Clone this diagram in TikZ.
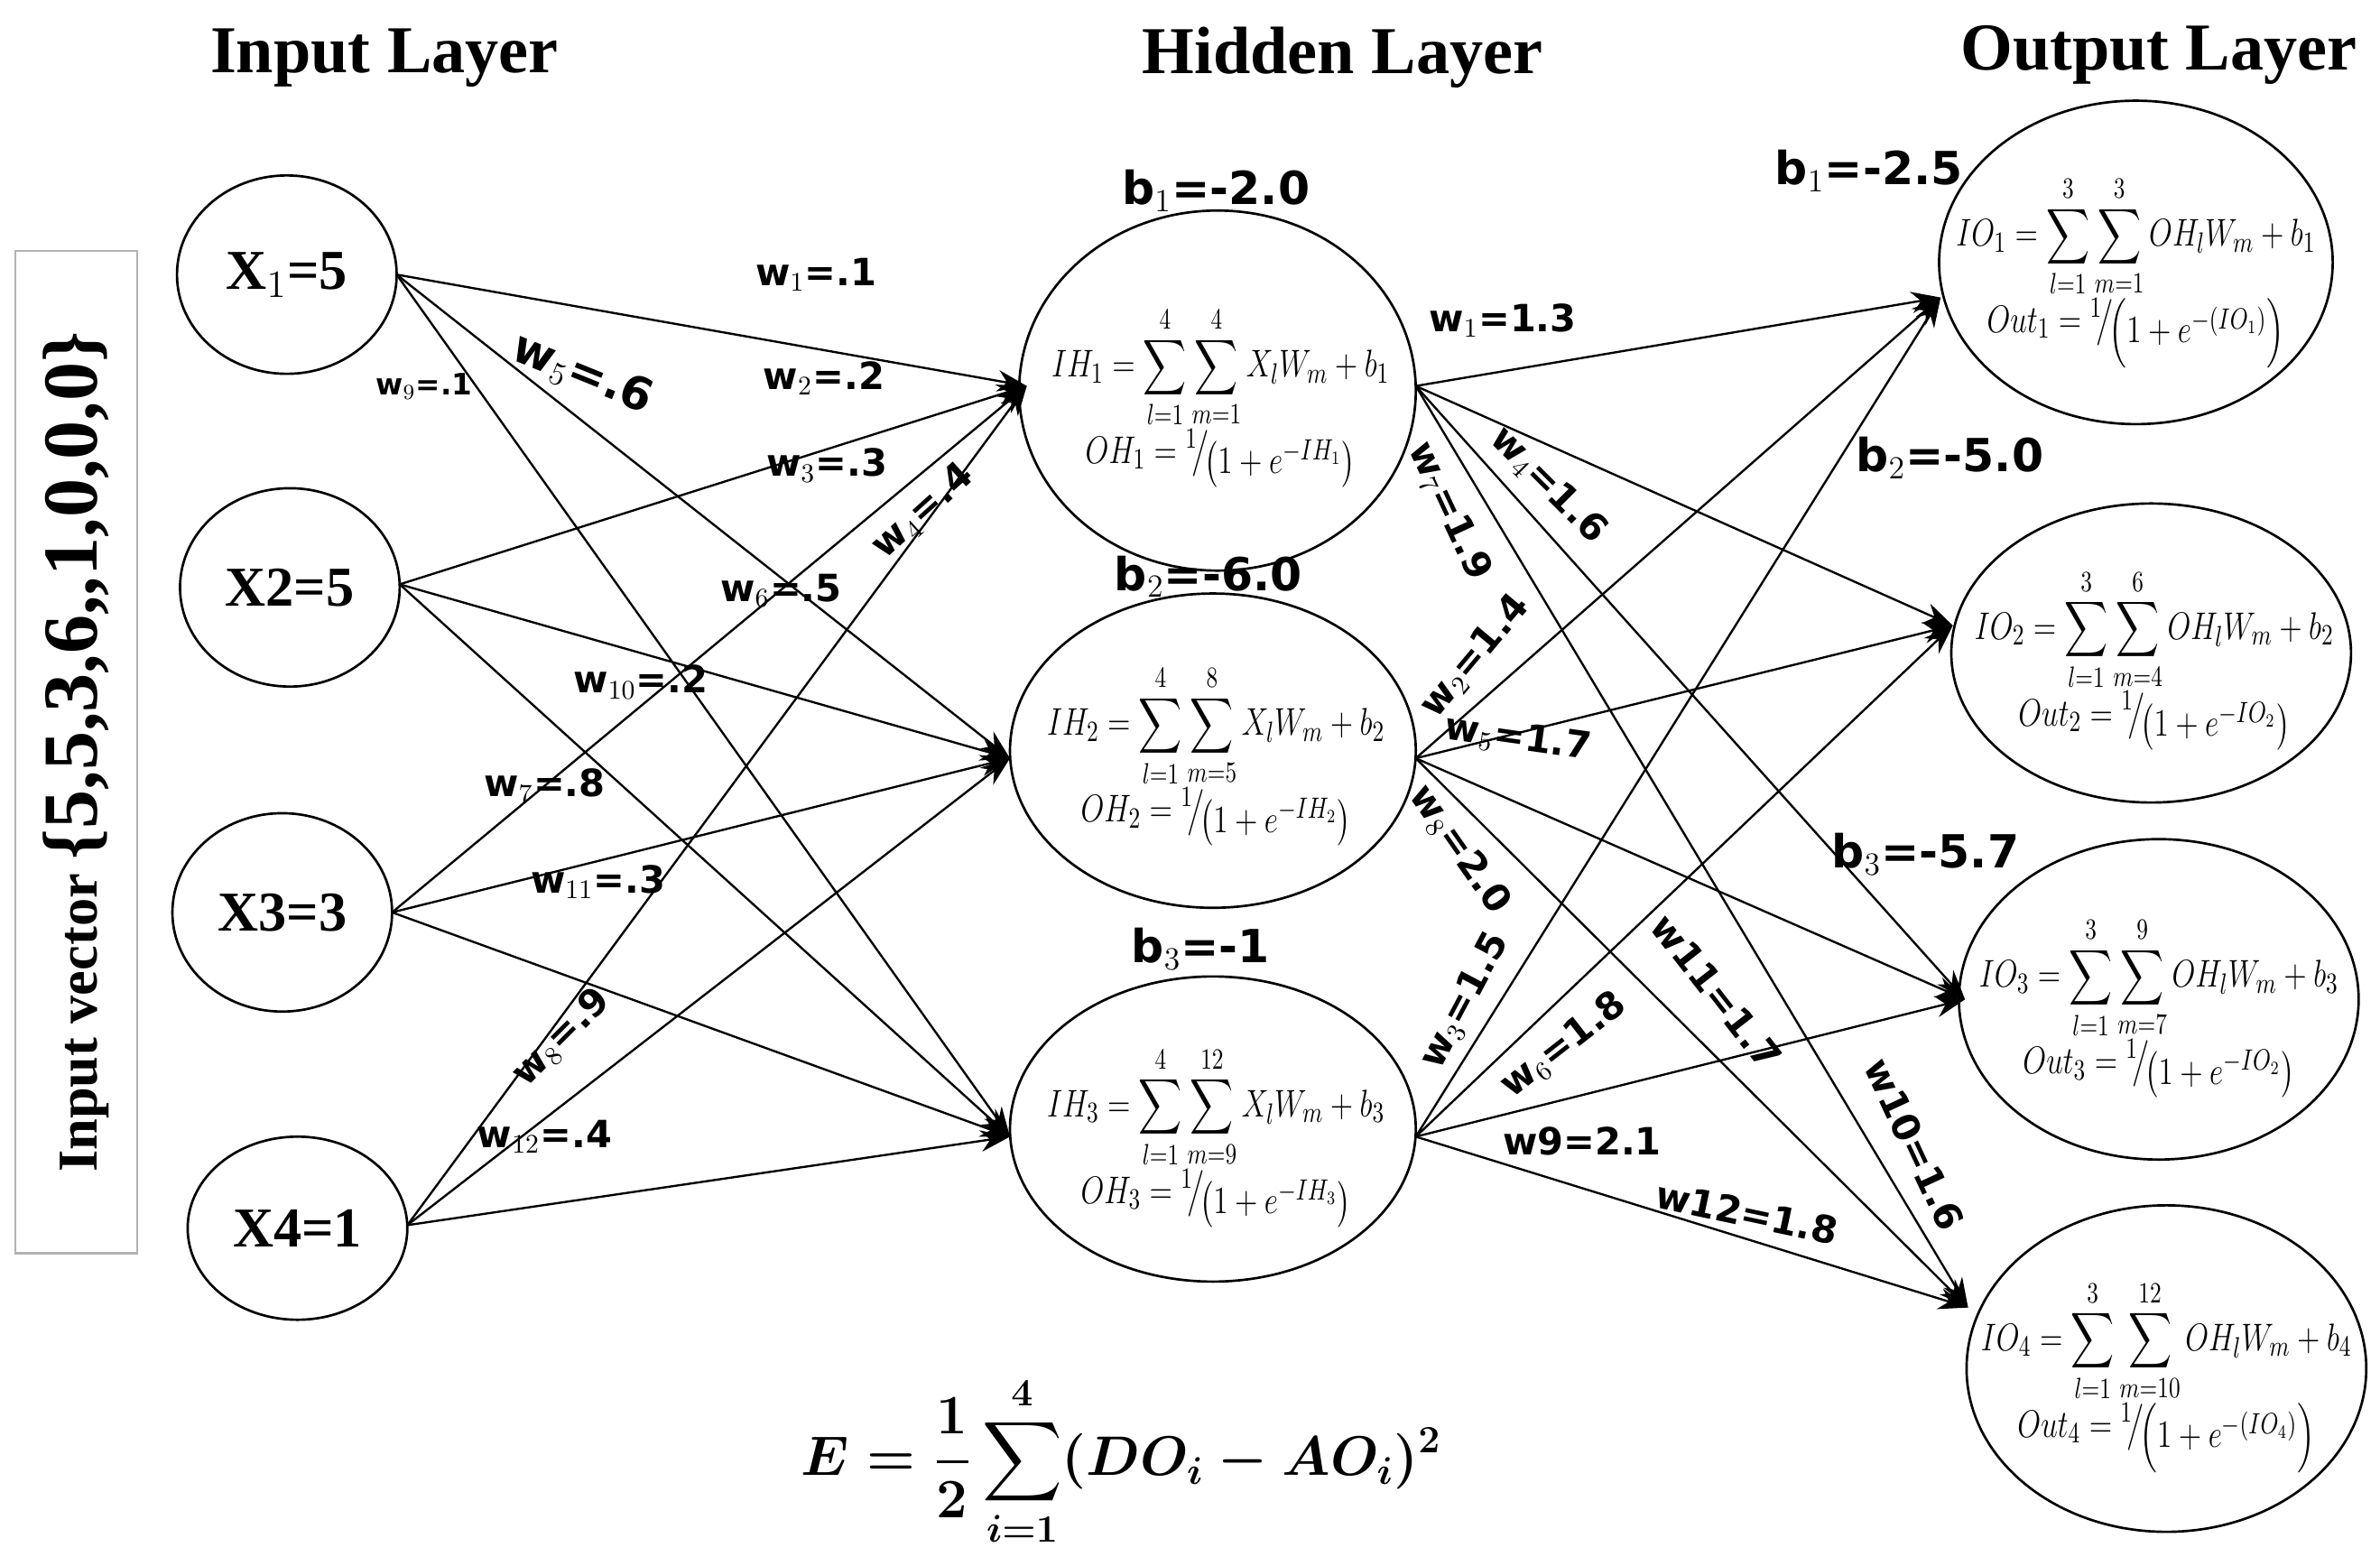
\documentclass[tikz,border=0pt]{standalone}
\usepackage{fontspec}
\usepackage{amsmath}
\usepackage{graphicx}
\usetikzlibrary{arrows.meta,shapes.geometric}
\newfontfamily\serifb{Liberation Serif}
\newfontfamily\lab{DejaVu Sans}
\newcommand{\inv}[1]{\raisebox{0.9ex}{$\scriptstyle 1$}\!\big/\!\raisebox{-0.6ex}{$\left(1+e^{#1}\right)$}}
\newcommand{\errformula}{\mbox{\mathversion{bold}$E=\dfrac{1}{2}\displaystyle\sum_{i=1}^{4}(DO_i-AO_i)^2$}}
\newcommand{\fmb}[2]{\scalebox{0.78}[1]{\begin{tabular}{c}#1\\[#2]\end{tabular}}}
\begin{document}
\begin{tikzpicture}[x=0.02cm,y=-0.02cm,
  ell/.style={draw,ellipse,line width=0.9pt,inner sep=0pt},
  edge/.style={line width=0.8pt,-{Stealth[length=11pt,width=8pt]}},
  wl/.style={font=\lab\bfseries\fontsize{14}{16}\selectfont},
  bl/.style={font=\lab\bfseries\fontsize{17}{19}\selectfont},
  ttl/.style={font=\serifb\bfseries\fontsize{25}{28}\selectfont},
  inl/.style={font=\serifb\bfseries\fontsize{21}{24}\selectfont},
  fm/.style={font=\fontsize{15}{17}\selectfont,inner sep=0pt}]
\useasboundingbox (0,0) rectangle (1560,1026);
% titles
\node[ttl] (t1) at (252,38) {Input Layer};
\node[ttl] (t2) at (880,38) {Hidden Layer};
\node[ttl] (t3) at (1415,36) {Output Layer};
% input vector box
\node[draw=gray!60,line width=0.8pt,minimum width=80*0.02cm,minimum height=657*0.02cm] (vbox) at (50,493) {};
\node[rotate=90,font=\serifb\bfseries] (vtext) at (50,493) {{\fontsize{21}{24}\selectfont Input vector }{\fontsize{29}{32}\selectfont \{5,5,3,6,,1,0,0,0\}}};
% input nodes
\node[ell,minimum width=144*0.02cm,minimum height=130*0.02cm,inl] (x1) at (188,180) {X$_1$=5};
\node[ell,minimum width=144*0.02cm,minimum height=130*0.02cm,inl] (x2) at (190,385) {X2=5};
\node[ell,minimum width=144*0.02cm,minimum height=130*0.02cm,inl] (x3) at (185,598) {X3=3};
\node[ell,minimum width=144*0.02cm,minimum height=120*0.02cm,inl] (x4) at (195,805) {X4=1};
% hidden nodes
\node[ell,minimum width=260*0.02cm,minimum height=236*0.02cm] (h1) at (798,256) {};
\node[ell,minimum width=266*0.02cm,minimum height=206*0.02cm] (h2) at (795,492) {};
\node[ell,minimum width=266*0.02cm,minimum height=200*0.02cm] (h3) at (795,740) {};
\node[fm] (h1t) at (800,260) {\fmb{$IH_1=\displaystyle\sum_{l=1}^{4}\sum_{m=1}^{4}X_lW_m+b_1$\\[2pt] $OH_1=\inv{-IH_1}$}{0pt}};
\node[fm] (h2t) at (797,495) {\fmb{$IH_2=\displaystyle\sum_{l=1}^{4}\sum_{m=5}^{8}X_lW_m+b_2$\\[2pt] $OH_2=\inv{-IH_2}$}{0pt}};
\node[fm] (h3t) at (797,745) {\fmb{$IH_3=\displaystyle\sum_{l=1}^{4}\sum_{m=9}^{12}X_lW_m+b_3$\\[0pt] $OH_3=\inv{-IH_3}$}{0pt}};
% output nodes
\node[ell,minimum width=258*0.02cm,minimum height=212*0.02cm] (o1) at (1400,172) {};
\node[ell,minimum width=262*0.02cm,minimum height=196*0.02cm] (o2) at (1410,428) {};
\node[ell,minimum width=262*0.02cm,minimum height=210*0.02cm] (o3) at (1415,655) {};
\node[ell,minimum width=262*0.02cm,minimum height=214*0.02cm] (o4) at (1420,897) {};
\node[fm] (o1t) at (1400,178) {\fmb{$IO_1=\displaystyle\sum_{l=1}^{3}\sum_{m=1}^{3}OH_lW_m+b_1$\\[2pt] $Out_1=\inv{-(IO_1)}$}{0pt}};
\node[fm] (o2t) at (1412,432) {\fmb{$IO_2=\displaystyle\sum_{l=1}^{3}\sum_{m=4}^{6}OH_lW_m+b_2$\\[2pt] $Out_2=\inv{-IO_2}$}{0pt}};
\node[fm] (o3t) at (1415,660) {\fmb{$IO_3=\displaystyle\sum_{l=1}^{3}\sum_{m=7}^{9}OH_lW_m+b_3$\\[2pt] $Out_3=\inv{-IO_2}$}{0pt}};
\node[fm] (o4t) at (1420,902) {\fmb{$IO_4=\displaystyle\sum_{l=1}^{3}\sum_{m=10}^{12}OH_lW_m+b_4$\\[2pt] $Out_4=\inv{-(IO_4)}$}{0pt}};
% anchor coordinates
\coordinate (x1e) at (260,180); \coordinate (x2e) at (262,383);
\coordinate (x3e) at (257,598); \coordinate (x4e) at (267,803);
\coordinate (h1w) at (673,253); \coordinate (h2w) at (662,497); \coordinate (h3w) at (662,745);
\coordinate (h1e) at (928,253); \coordinate (h2e) at (928,497); \coordinate (h3e) at (928,745);
\coordinate (o1w) at (1272,195); \coordinate (o2w) at (1280,410);
\coordinate (o3w) at (1288,655); \coordinate (o4w) at (1290,857);
\foreach \i in {x1e,x2e,x3e,x4e}{\foreach \j in {h1w,h2w,h3w}{\draw[edge] (\i) -- (\j);}}
\foreach \i in {h1e,h2e,h3e}{\foreach \j in {o1w,o2w,o3w,o4w}{\draw[edge] (\i) -- (\j);}}
% left weight labels
\node[wl] (l1) at (535,180) {w$_1$=.1};
\node[wl] (l2) at (540,248) {w$_2$=.2};
\node[wl] (l3) at (542,305) {w$_3$=.3};
\node[wl,rotate=42] (l4) at (605,335) {w$_4$=.4};
\node[wl,rotate=-22,font=\lab\bfseries\fontsize{17}{19}\selectfont] (l5) at (382,245) {w$_5$=.6};
\node[wl] (l6) at (512,387) {w$_6$=.5};
\node[wl,font=\lab\bfseries\fontsize{11}{13}\selectfont] (l9) at (278,253) {w$_9$=.1};
\node[wl] (l10) at (420,447) {w$_{10}$=.2};
\node[wl] (l7) at (357,515) {w$_7$=.8};
\node[wl] (l11) at (392,578) {w$_{11}$=.3};
\node[wl,rotate=45] (l8) at (368,680) {w$_8$=.9};
\node[wl] (l12) at (357,745) {w$_{12}$=.4};
% right weight labels
\node[wl] (r1) at (985,210) {w$_1$=1.3};
\node[wl,rotate=-45] (r4) at (1015,318) {w$_4$=1.6};
\node[wl,rotate=-65] (r7) at (950,335) {w$_7$=1.9};
\node[wl,rotate=50] (r2) at (967,430) {w$_2$=1.4};
\node[wl,rotate=-8] (r5) at (995,484) {w$_5$=1.7};
\node[wl,rotate=-55] (r8) at (957,557) {w$_8$=2.0};
\node[wl,rotate=62] (r3) at (960,656) {w$_3$=1.5};
\node[wl,rotate=38] (r6) at (1025,685) {w$_6$=1.8};
\node[wl,rotate=-52] (r11) at (1125,650) {w11=1.7};
\node[wl,rotate=-65] (r10) at (1255,750) {w10=1.6};
\node[wl] (r9) at (1037,748) {w9=2.1};
\node[wl,rotate=-12] (r12) at (1145,795) {w12=1.8};
% biases
\node[bl] (b1) at (797,125) {b$_1$=-2.0};
\node[bl] (b2) at (792,378) {b$_2$=-6.0};
\node[bl] (b3) at (787,622) {b$_3$=-1};
\node[bl] (c1) at (1225,112) {b$_1$=-2.5};
\node[bl] (c2) at (1278,300) {b$_2$=-5.0};
\node[bl] (c3) at (1262,560) {b$_3$=-5.7};
% error
\node[font=\fontsize{21}{24}\selectfont] (err) at (735,958) {\errformula};
\end{tikzpicture}
\end{document}
